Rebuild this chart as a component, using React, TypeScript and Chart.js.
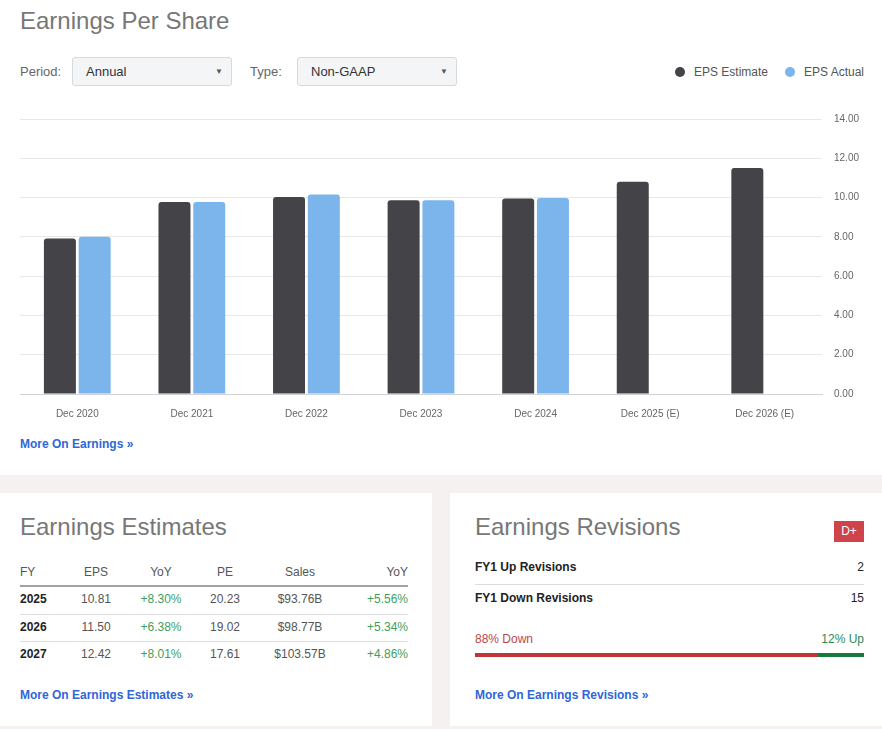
import React, { useEffect, useRef } from "react";
import { Chart, registerables } from "chart.js";

Chart.register(...registerables);

// EPS chart data
const categories = [
  "Dec 2020",
  "Dec 2021",
  "Dec 2022",
  "Dec 2023",
  "Dec 2024",
  "Dec 2025 (E)",
  "Dec 2026 (E)",
];
const epsEstimate = [7.92, 9.77, 10.03, 9.86, 9.95, 10.81, 11.5];
const epsActual: (number | null)[] = [8.0, 9.77, 10.16, 9.86, 9.98, null, null];
const yMin = 0;
const yMax = 14;
const yStep = 2;

// Estimates table
const estHeaders = ["FY", "EPS", "YoY", "PE", "Sales", "YoY"];
const estYears = ["2025", "2026", "2027"];
const estEps = ["10.81", "11.50", "12.42"];
const estEpsYoY = ["+8.30%", "+6.38%", "+8.01%"];
const estPE = ["20.23", "19.02", "17.61"];
const estSales = ["$93.76B", "$98.77B", "$103.57B"];
const estSalesYoY = ["+5.56%", "+5.34%", "+4.86%"];

// Revisions
const upRevisions = 2;
const downRevisions = 15;
const revisionGrade = "D+";

const FONT = '"Liberation Sans", Arial, Helvetica, sans-serif';
const DARK = "#434348";
const BLUE = "#7cb5ec";
const LINK = "#2f66d8";
const GREEN_TXT = "#3f9e5c";

type TextProps = {
  x: number;
  cy: number;
  size: number;
  color: string;
  bold?: boolean;
  align?: "left" | "center" | "right";
  children: React.ReactNode;
};

// Places one line of text with its vertical centre at cy; x is the left edge,
// centre or right edge depending on align.
function T({ x, cy, size, color, bold, align = "left", children }: TextProps) {
  const w = 200;
  const left = align === "left" ? x : align === "center" ? x - w / 2 : x - w;
  return (
    <div
      style={{
        position: "absolute",
        left,
        top: cy - 10,
        width: w,
        height: 20,
        lineHeight: "20px",
        fontSize: size,
        fontWeight: bold ? 700 : 400,
        color,
        textAlign: align,
        whiteSpace: "nowrap",
        fontFamily: FONT,
      }}
    >
      {children}
    </div>
  );
}

function SelectBox({ x, w, label }: { x: number; w: number; label: string }) {
  return (
    <div
      style={{
        position: "absolute",
        left: x,
        top: 57,
        width: w,
        height: 29,
        boxSizing: "border-box",
        background: "#f4f5f7",
        border: "1px solid #d6d9de",
        borderRadius: 3,
        fontFamily: FONT,
      }}
    >
      <div
        style={{
          position: "absolute",
          left: 13,
          top: 0,
          lineHeight: "27px",
          fontSize: 13,
          color: "#333",
        }}
      >
        {label}
      </div>
      <div
        style={{
          position: "absolute",
          right: 8,
          top: 0,
          lineHeight: "27px",
          fontSize: 8,
          color: "#555",
        }}
      >
        ▼
      </div>
    </div>
  );
}

function EpsChart() {
  const ref = useRef<HTMLCanvasElement | null>(null);

  useEffect(() => {
    if (!ref.current) return;
    const chart = new Chart(ref.current, {
      type: "bar",
      data: {
        labels: categories,
        datasets: [
          {
            label: "EPS Estimate",
            data: epsEstimate,
            backgroundColor: DARK,
            borderRadius: { topLeft: 3, topRight: 3, bottomLeft: 0, bottomRight: 0 },
            borderSkipped: "bottom",
            categoryPercentage: 0.607,
            barPercentage: 0.92,
          },
          {
            label: "EPS Actual",
            data: epsActual,
            backgroundColor: BLUE,
            borderRadius: { topLeft: 3, topRight: 3, bottomLeft: 0, bottomRight: 0 },
            borderSkipped: "bottom",
            categoryPercentage: 0.607,
            barPercentage: 0.92,
          },
        ],
      },
      options: {
        animation: false,
        responsive: true,
        maintainAspectRatio: false,
        layout: { padding: { left: 20, top: 19, right: 0, bottom: 0 } },
        plugins: {
          legend: { display: false },
          tooltip: { enabled: false },
        },
        scales: {
          x: {
            grid: { display: false, drawTicks: false },
            border: { display: true, color: "#cfd2d8", width: 1 },
            ticks: {
              color: "#666",
              font: { family: FONT, size: 10 },
              padding: 14,
              maxRotation: 0,
              autoSkip: false,
            },
            afterFit: (scale: any) => {
              scale.height = 36;
            },
          },
          y: {
            position: "right",
            min: yMin,
            max: yMax,
            grid: { color: "#e8e8e8", drawTicks: false },
            border: { display: false },
            ticks: {
              stepSize: yStep,
              color: "#666",
              padding: 12,
              font: { family: FONT, size: 10 },
              callback: (v: any) => Number(v).toFixed(2),
            },
            afterFit: (scale: any) => {
              scale.width = 60;
            },
          },
        },
      },
    });
    return () => chart.destroy();
  }, []);

  return (
    <div style={{ position: "absolute", left: 0, top: 100, width: 882, height: 330 }}>
      <canvas ref={ref} />
    </div>
  );
}

export default function App() {
  const total = upRevisions + downRevisions;
  const downPct = Math.round((downRevisions / total) * 100);
  const upPct = 100 - downPct;
  const barLeft = 475;
  const barRight = 864;
  const barSplit = barLeft + ((barRight - barLeft) * downRevisions) / total;

  const estCols: { x: number; align: "left" | "center" | "right" }[] = [
    { x: 20, align: "left" },
    { x: 96, align: "center" },
    { x: 161, align: "center" },
    { x: 225, align: "center" },
    { x: 300, align: "center" },
    { x: 408, align: "right" },
  ];
  const rowY = [599, 627, 654];

  return (
    <div
      style={{
        position: "absolute",
        left: 0,
        top: 0,
        width: 882,
        height: 729,
        background: "#f4f1f0",
        overflow: "hidden",
        fontFamily: FONT,
      }}
    >
      {/* EPS panel */}
      <div style={{ position: "absolute", left: 0, top: 0, width: 882, height: 475, background: "#fff" }}>
        <T x={20} cy={21} size={24} color="#777">Earnings Per Share</T>
        <T x={20} cy={72} size={13} color="#666">Period:</T>
        <SelectBox x={72} w={160} label="Annual" />
        <T x={250} cy={72} size={13} color="#666">Type:</T>
        <SelectBox x={297} w={160} label="Non-GAAP" />

        <div style={{ position: "absolute", left: 675, top: 67, width: 10, height: 10, borderRadius: 5, background: DARK }} />
        <T x={694} cy={72} size={12} color="#555">EPS Estimate</T>
        <div style={{ position: "absolute", left: 785, top: 67, width: 10, height: 10, borderRadius: 5, background: BLUE }} />
        <T x={804} cy={72} size={12} color="#555">EPS Actual</T>

        <EpsChart />

        <T x={20} cy={444} size={12} color={LINK} bold>More On Earnings »</T>
      </div>

      {/* Estimates panel */}
      <div style={{ position: "absolute", left: 0, top: 493, width: 432, height: 233, background: "#fff" }} />
      <T x={20} cy={527} size={24} color="#777">Earnings Estimates</T>
      {estHeaders.map((h, i) => (
        <T key={"h" + i} x={estCols[i].x} cy={572} size={12} color="#555" align={estCols[i].align}>
          {h}
        </T>
      ))}
      <div style={{ position: "absolute", left: 20, top: 585, width: 388, height: 2, background: "#9ea3a8" }} />
      {estYears.map((yr, r) => {
        const cells = [yr, estEps[r], estEpsYoY[r], estPE[r], estSales[r], estSalesYoY[r]];
        return cells.map((c, i) => (
          <T
            key={r + "-" + i}
            x={estCols[i].x}
            cy={rowY[r]}
            size={12}
            bold={i === 0}
            color={i === 0 ? "#222" : i === 2 || i === 5 ? GREEN_TXT : "#555"}
            align={estCols[i].align}
          >
            {c}
          </T>
        ));
      })}
      <div style={{ position: "absolute", left: 20, top: 614, width: 388, height: 1, background: "#dcdcdc" }} />
      <div style={{ position: "absolute", left: 20, top: 641, width: 388, height: 1, background: "#dcdcdc" }} />
      <T x={20} cy={695} size={12} color={LINK} bold>More On Earnings Estimates »</T>

      {/* Revisions panel */}
      <div style={{ position: "absolute", left: 450, top: 493, width: 432, height: 233, background: "#fff" }} />
      <T x={475} cy={527} size={24} color="#777">Earnings Revisions</T>
      <div
        style={{
          position: "absolute",
          left: 834,
          top: 521,
          width: 30,
          height: 21,
          background: "#d0434a",
          color: "#fff",
          fontSize: 12,
          lineHeight: "21px",
          textAlign: "center",
          fontFamily: FONT,
        }}
      >
        {revisionGrade}
      </div>
      <T x={475} cy={567} size={12} color="#222" bold>FY1 Up Revisions</T>
      <T x={864} cy={567} size={12} color="#222" align="right">{String(upRevisions)}</T>
      <div style={{ position: "absolute", left: 475, top: 584, width: 389, height: 1, background: "#dcdcdc" }} />
      <T x={475} cy={598} size={12} color="#222" bold>FY1 Down Revisions</T>
      <T x={864} cy={598} size={12} color="#222" align="right">{String(downRevisions)}</T>
      <T x={475} cy={639} size={12} color="#c0464b">{downPct + "% Down"}</T>
      <T x={864} cy={639} size={12} color="#2f8a52" align="right">{upPct + "% Up"}</T>
      <div style={{ position: "absolute", left: barLeft, top: 653, width: barSplit - barLeft, height: 4, background: "#c03538" }} />
      <div style={{ position: "absolute", left: barSplit, top: 653, width: barRight - barSplit, height: 4, background: "#17793f" }} />
      <T x={475} cy={695} size={12} color={LINK} bold>More On Earnings Revisions »</T>
    </div>
  );
}
